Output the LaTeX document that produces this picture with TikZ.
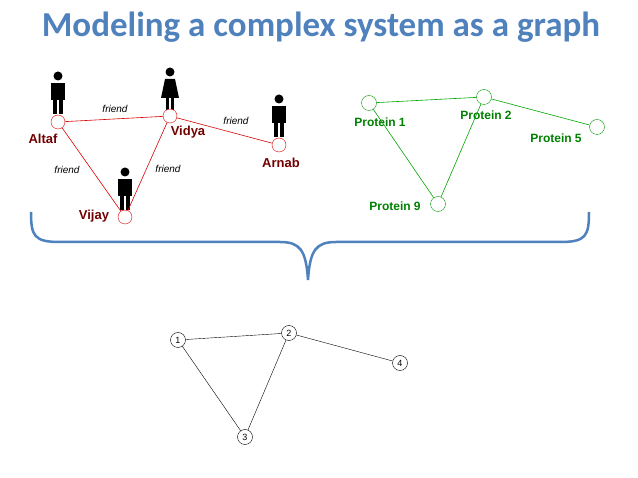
\documentclass[tikz,border=0pt]{standalone}
\usepackage{fontspec}
\setmainfont{Liberation Sans}
\newfontfamily\titlefont{Carlito}
\definecolor{tblue}{RGB}{79,129,189}
\begin{document}
\begin{tikzpicture}[x=1pt,y=-1pt,
  rn/.style={circle,draw=red!85!black,fill=white,minimum size=14pt,inner sep=0pt},
  gn/.style={circle,draw=green!60!black,fill=white,minimum size=15pt,inner sep=0pt},
  bn/.style={circle,draw=black,fill=white,minimum size=15pt,inner sep=0pt,font=\small},
  rl/.style={red!85!black,line width=0.6pt},
  gl/.style={green!65!black,line width=0.6pt},
  rlab/.style={text=red!45!black,font=\bfseries\fontsize{13}{13}\selectfont},
  glab/.style={text=green!50!black,font=\bfseries\fontsize{12}{12}\selectfont},
  fl/.style={font=\itshape\fontsize{10}{10}\selectfont},
  man/.pic={\fill[black] (0,-38) circle (4.5);
    \fill[black] (-7,-31) rectangle (7,-14);
    \fill[black] (-5,-16) rectangle (-0.6,0); \fill[black] (0.6,-16) rectangle (5,0);},
  woman/.pic={\fill[black] (0,-38) circle (4.5);
    \fill[black] (-5,-31) -- (5,-31) -- (9,-12) -- (-9,-12) -- cycle;
    \fill[black] (-4,-13) rectangle (-0.8,0); \fill[black] (0.8,-13) rectangle (4,0);}]
\useasboundingbox (0,0) rectangle (638,478);
\node (title) [text=tblue,font=\titlefont\bfseries\fontsize{35}{35}\selectfont,
  preaction={}] at (321,27) {Modeling a complex system as a graph};
% social
\path (58,114) pic{man} (170,110) pic{woman} (279,137) pic{man} (125,210) pic{man};
\node[rn] (altaf) at (58,122) {};
\node[rn] (vidya) at (170,116) {};
\node[rn] (arnab) at (279,145) {};
\node[rn] (vijay) at (125,217) {};
\draw[rl] (altaf)--(vidya) (vidya)--(arnab) (altaf)--(vijay) (vidya)--(vijay);
\node[rlab] (la) at (43,139) {Altaf};
\node[rlab] (lv) at (188,132) {Vidya};
\node[rlab] (lr) at (281,163) {Arnab};
\node[rlab] (lj) at (94,216) {Vijay};
\node[fl] (f1) at (115,109) {friend};
\node[fl] (f2) at (236,121) {friend};
\node[fl] (f3) at (67,170) {friend};
\node[fl] (f4) at (168,169) {friend};
% proteins
\node[gn] (p1) at (369,103) {};
\node[gn] (p2) at (484,97) {};
\node[gn] (p5) at (597,127) {};
\node[gn] (p9) at (438,204) {};
\draw[gl] (p1)--(p2) (p2)--(p5) (p1)--(p9) (p2)--(p9);
\node[glab] at (380,122) {Protein 1};
\node[glab] at (486,115) {Protein 2};
\node[glab] at (556,138) {Protein 5};
\node[glab] at (395,206) {Protein 9};
% brace
\draw[line width=2.5pt,color=tblue] (31,212) .. controls (31,236) and (34,242) .. (60,242) -- (280,242) .. controls (300,242) and (306,250) .. (308,280) .. controls (310,250) and (316,242) .. (336,242) -- (560,242) .. controls (586,242) and (589,236) .. (589,212);
% abstract
\node[bn] (n1) at (178,340) {1};
\node[bn] (n2) at (289,333) {2};
\node[bn] (n4) at (400,363) {4};
\node[bn] (n3) at (245,437) {3};
\draw (n1)--(n2) (n2)--(n4) (n1)--(n3) (n2)--(n3);
\end{tikzpicture}
\end{document}
